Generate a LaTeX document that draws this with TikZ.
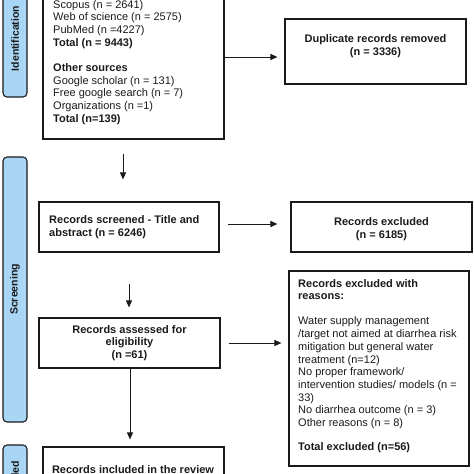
\documentclass[tikz,border=0pt]{standalone}
\usepackage{fontspec}
\setmainfont{Liberation Sans}
\usetikzlibrary{arrows.meta}
\definecolor{sideblue}{HTML}{A9D6F5}
\definecolor{ink}{HTML}{1A1A1A}
\begin{document}
\begin{tikzpicture}[x=1pt,y=-1pt,
  box/.style={draw=ink, line width=1.1pt, inner sep=0pt},
  txt/.style={inner sep=0pt, font=\fontsize{11}{12.7}\selectfont, text=ink},
  btxt/.style={txt, font=\bfseries\fontsize{11}{12.7}\selectfont},
  side/.style={draw=ink, line width=1.1pt, fill=sideblue, rounded corners=4pt, minimum height=24pt, inner sep=0pt, font=\bfseries\fontsize{10.5}{12}\selectfont, text=ink, rotate=90},
  arr/.style={draw=ink, line width=1pt, -{Triangle[length=7pt,width=6pt]}}]
\useasboundingbox (0,0) rectangle (474,474);
% side labels
\node[side, minimum width=117pt] (sid) at (15,38.5) {Identification};
\node[side, minimum width=265pt] (sscr) at (15,289.5) {Screening};
\node[side, minimum width=75pt] (sinc) at (15,482.5) {Included};
% boxes
\node[box, minimum width=181pt, minimum height=149pt] (top) at (133.5,64.5) {};
\node[box, minimum width=181pt, minimum height=65pt] (dup) at (375.5,51.5) {};
\node[box, minimum width=180pt, minimum height=50pt] (screened) at (129,227) {};
\node[box, minimum width=181pt, minimum height=50pt] (excl) at (381.5,227) {};
\node[box, minimum width=181pt, minimum height=50pt] (assessed) at (129.5,343) {};
\node[box, minimum width=180pt, minimum height=195pt] (reasons) at (379,368.5) {};
\node[box, minimum width=181pt, minimum height=53pt] (included) at (133.5,473.5) {};
% texts
\node[txt, anchor=west, align=left] (toptext) at (53,62.5)
 {Scopus (n = 2641)\\Web of science (n = 2575)\\PubMed (n =4227)\\\textbf{Total (n = 9443)}\\[12.5pt]\textbf{Other sources}\\Google scholar (n = 131)\\Free google search (n = 7)\\Organizations (n =1)\\\textbf{Total (n=139)}};
\node[btxt, align=center] (duptext) at (375.5,46.5)
 {Duplicate records removed\\(n = 3336)};
\node[btxt, anchor=west, align=left] (screenedtext) at (49,227.5)
 {Records screened - Title and\\abstract (n = 6246)};
\node[btxt, align=center] (excltext) at (381.5,229)
 {Records excluded\\(n = 6185)};
\node[btxt, align=center] (assessedtext) at (129.5,343)
 {Records assessed for\\eligibility\\(n =61)};
\node[txt, anchor=west, align=left] (reasonstext) at (298,366)
 {\textbf{Records excluded with}\\\textbf{reasons:}\\[12.5pt]Water supply management\\/target not aimed at diarrhea risk\\mitigation but general water\\treatment (n=12)\\No proper framework/\\intervention studies/ models (n =\\33)\\No diarrhea outcome (n = 3)\\Other reasons (n = 8)\\[11.5pt]\textbf{Total excluded (n=56)}};
\node[btxt, align=center] (includedtext) at (133,470)
 {Records included in the review};
% connectors
\coordinate (a1) at (123,0);
\coordinate (a2) at (129,0);
\coordinate (a3) at (130,0);
\coordinate (h1) at (0,57);
\coordinate (h2) at (0,224);
\coordinate (h3) at (0,343);
\draw[arr, shorten >=7pt] (top.east |- h1) -- (dup.west |- h1);
\draw[arr, shorten <=14pt, shorten >=22pt] (top.south -| a1) -- (screened.north -| a1);
\draw[arr, shorten <=8pt, shorten >=13pt] (screened.east |- h2) -- (excl.west |- h2);
\draw[arr, shorten <=31pt, shorten >=10pt] (screened.south -| a2) -- (assessed.north -| a2);
\draw[arr, shorten <=8pt, shorten >=7pt] (assessed.east |- h3) -- (reasons.west |- h3);
\draw[arr, shorten >=7pt] (assessed.south -| a3) -- (included.north -| a3);
\end{tikzpicture}
\end{document}
